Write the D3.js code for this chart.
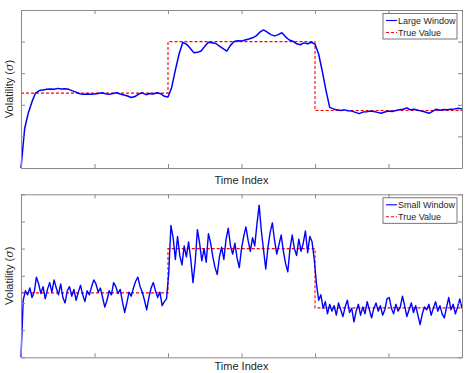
<!DOCTYPE html>
<html>
<head>
<meta charset="utf-8">
<script src="https://cdn.jsdelivr.net/npm/d3@7"></script>
<style>
  html, body { margin: 0; padding: 0; background: #fff; }
  svg { display: block; font-family: "Liberation Sans", Arial, sans-serif; }
</style>
</head>
<body>
<svg id="chart" width="474" height="373"></svg>
<script>
// ---- Data ------------------------------------------------------------------
const trueBreaks = [0, 200, 400, 600];
const trueLevels = [2.37, 4.0, 1.82];

// large window estimate, one value every 5 time steps (0..600)
const largeStep = 5;
const largeWindow = [
  0.00, 1.25, 1.75, 2.10, 2.38, 2.45, 2.47, 2.49, 2.50, 2.49,
  2.52, 2.50, 2.51, 2.49, 2.44, 2.40, 2.35, 2.33, 2.34, 2.33,
  2.34, 2.36, 2.38, 2.35, 2.33, 2.36, 2.38, 2.34, 2.31, 2.28,
  2.23, 2.26, 2.34, 2.38, 2.32, 2.36, 2.34, 2.38, 2.35, 2.27,
  2.25, 2.55, 3.10, 3.60, 3.97, 3.92, 3.80, 3.65, 3.66, 3.70,
  3.85, 3.98, 3.96, 3.94, 3.86, 3.78, 3.70, 3.88, 4.00, 4.03,
  4.02, 4.05, 4.08, 4.12, 4.18, 4.30, 4.37, 4.30, 4.22, 4.18,
  4.22, 4.28, 4.15, 4.05, 4.01, 3.93, 3.90, 3.96, 3.93, 3.98,
  3.92, 3.60, 3.05, 2.45, 1.92, 1.87, 1.84, 1.82, 1.84, 1.81,
  1.80, 1.76, 1.72, 1.77, 1.78, 1.80, 1.79, 1.76, 1.73, 1.77,
  1.80, 1.79, 1.82, 1.84, 1.86, 1.90, 1.84, 1.86, 1.83, 1.80,
  1.77, 1.73, 1.79, 1.86, 1.83, 1.85, 1.84, 1.86, 1.87, 1.89,
  1.87
];

// small window estimate, one value every 3 time steps (0..600)
const smallStep = 3;
const smallWindow = [
  0.00, 2.10, 2.45, 2.30, 2.55, 2.20, 2.40, 2.95, 2.70, 2.35,
  2.60, 2.15, 2.50, 2.75, 2.40, 2.85, 2.55, 2.30, 2.70, 2.20,
  2.00, 2.45, 2.60, 2.25, 2.50, 2.10, 2.40, 2.65, 2.30, 2.05,
  2.45, 2.30, 2.60, 2.85, 2.70, 2.40, 2.55, 2.20, 1.85, 2.10,
  2.45, 2.30, 2.75, 2.60, 2.35, 2.50, 2.05, 1.65, 2.00, 2.40,
  2.25, 2.55, 2.80, 2.95, 2.60, 2.40, 2.10, 1.75, 2.20, 2.55,
  2.75, 2.45, 2.20, 2.40, 1.90, 2.05, 2.15,
  3.10, 4.85, 4.40, 3.60, 4.45, 3.75, 3.40, 4.10, 3.70, 4.25,
  3.60, 2.75, 3.50, 4.70, 4.20, 3.55, 4.00, 3.50, 4.55, 4.20,
  3.70, 3.30, 3.05, 3.70, 4.05, 3.60, 4.35, 4.75, 4.10, 3.80,
  4.20, 3.65, 3.30, 4.00, 4.45, 4.80, 4.30, 3.90, 4.40, 4.10,
  4.90, 5.60, 4.65, 3.95, 3.25, 4.05, 4.60, 4.95, 4.30, 3.80,
  4.15, 4.50, 3.90, 3.45, 3.15, 4.00, 4.50, 4.00, 3.75, 4.35,
  3.90, 4.20, 4.65, 3.85, 4.45, 4.25, 3.60,
  2.70, 2.10, 2.30, 1.80, 2.05, 1.60, 1.95, 1.70, 1.90, 1.55,
  2.00, 1.75, 1.50, 1.85, 2.10, 1.65, 1.80, 1.30, 1.70, 1.95,
  1.55, 1.85, 1.60, 2.05, 1.75, 1.45, 1.80, 2.00, 1.70, 1.90,
  1.55, 1.75, 2.15, 2.20, 1.80, 1.60, 1.95, 1.70, 1.85, 2.25,
  1.90, 1.50, 1.75, 2.00, 1.65, 1.90, 1.55, 1.20, 1.60, 1.85,
  1.75, 1.95, 1.55, 1.80, 2.05, 1.70, 1.90, 1.60, 1.45, 1.85,
  2.20, 1.75, 1.95, 1.60, 1.85, 2.15, 1.80
];

const xTicks = [0, 100, 200, 300, 400, 500, 600];

const panels = [
  { name: 'Large Window', values: largeWindow, step: largeStep, yMax: 5, box: { x0: 21, x1: 462, y0: 10, y1: 168 }, width: 1.5, labelGap: 16 },
  { name: 'Small Window', values: smallWindow, step: smallStep, yMax: 6, box: { x0: 21, x1: 462, y0: 194.3, y1: 357.3 }, width: 1.4, labelGap: 13 }
];

const BLUE = '#0000ff', RED = '#ff0000', AXIS = '#8a8a8a', TEXT = '#262626';
const svg = d3.select('#chart');

// ---- Panels ----------------------------------------------------------------
panels.forEach(p => {
  const b = p.box;
  const x = d3.scaleLinear().domain([0, 600]).range([b.x0, b.x1]);
  const y = d3.scaleLinear().domain([0, p.yMax]).range([b.y1, b.y0]);
  const yTicks = d3.range(0, p.yMax + 1);
  const g = svg.append('g');

  // true value (step function)
  const truePts = [];
  trueLevels.forEach((v, i) => {
    truePts.push([trueBreaks[i], v]);
    truePts.push([trueBreaks[i + 1], v]);
  });
  g.append('path')
    .datum(truePts)
    .attr('d', d3.line().x(d => x(d[0])).y(d => y(d[1])))
    .attr('fill', 'none')
    .attr('stroke', RED)
    .attr('stroke-width', 1.1)
    .attr('stroke-dasharray', '3,2');

  // estimate
  g.append('path')
    .datum(p.values.map((v, i) => [i * p.step, v]))
    .attr('d', d3.line().x(d => x(d[0])).y(d => y(d[1])))
    .attr('fill', 'none')
    .attr('stroke', BLUE)
    .attr('stroke-width', p.width)
    .attr('stroke-linejoin', 'round');

  // axes: MATLAB style box with inward ticks on all four sides
  const tk = 4;
  const axStyle = a => a
    .call(s => s.select('.domain').attr('stroke', AXIS))
    .call(s => s.selectAll('.tick line').attr('stroke', AXIS))
    .call(s => s.selectAll('.tick text').remove());

  g.append('g').attr('transform', `translate(0,${b.y1})`)
    .call(d3.axisBottom(x).tickValues(xTicks).tickSizeInner(-tk).tickSizeOuter(0)).call(axStyle);
  g.append('g').attr('transform', `translate(0,${b.y0})`)
    .call(d3.axisTop(x).tickValues(xTicks).tickSizeInner(-tk).tickSizeOuter(0)).call(axStyle);
  g.append('g').attr('transform', `translate(${b.x0},0)`)
    .call(d3.axisLeft(y).tickValues(yTicks).tickSizeInner(-tk).tickSizeOuter(0)).call(axStyle);
  g.append('g').attr('transform', `translate(${b.x1},0)`)
    .call(d3.axisRight(y).tickValues(yTicks).tickSizeInner(-tk).tickSizeOuter(0)).call(axStyle);

  // axis labels
  g.append('text')
    .attr('x', (b.x0 + b.x1) / 2).attr('y', b.y1 + p.labelGap)
    .attr('text-anchor', 'middle')
    .style('font-size', '11px').style('fill', TEXT)
    .text('Time Index');

  const yl = g.append('text')
    .attr('transform', `translate(13,${(b.y0 + b.y1) / 2}) rotate(-90)`)
    .attr('text-anchor', 'middle')
    .style('font-size', '11px').style('fill', TEXT);
  yl.append('tspan').text('Volatility (');
  yl.append('tspan').style('font-style', 'italic').style('font-family', '"DejaVu Serif", serif').text('σ');
  yl.append('tspan').text(')');

  // legend
  const lx = b.x1 - 79, ly = b.y0 + 3.5, lw = 74, lh = 25.5;
  const lg = g.append('g');
  lg.append('rect')
    .attr('x', lx).attr('y', ly).attr('width', lw).attr('height', lh)
    .attr('fill', '#fff').attr('stroke', '#555').attr('stroke-width', 0.8);
  [[p.name, BLUE, null], ['True Value', RED, '3,2']].forEach((item, i) => {
    const cy = ly + 7 + i * 12;
    lg.append('line')
      .attr('x1', lx + 3).attr('x2', lx + 14).attr('y1', cy).attr('y2', cy)
      .attr('stroke', item[1]).attr('stroke-width', 1.1)
      .attr('stroke-dasharray', item[2]);
    lg.append('text')
      .attr('x', lx + 15).attr('y', cy + 3.2)
      .style('font-size', '9px').style('fill', TEXT)
      .text(item[0]);
  });
});
</script>
</body>
</html>
